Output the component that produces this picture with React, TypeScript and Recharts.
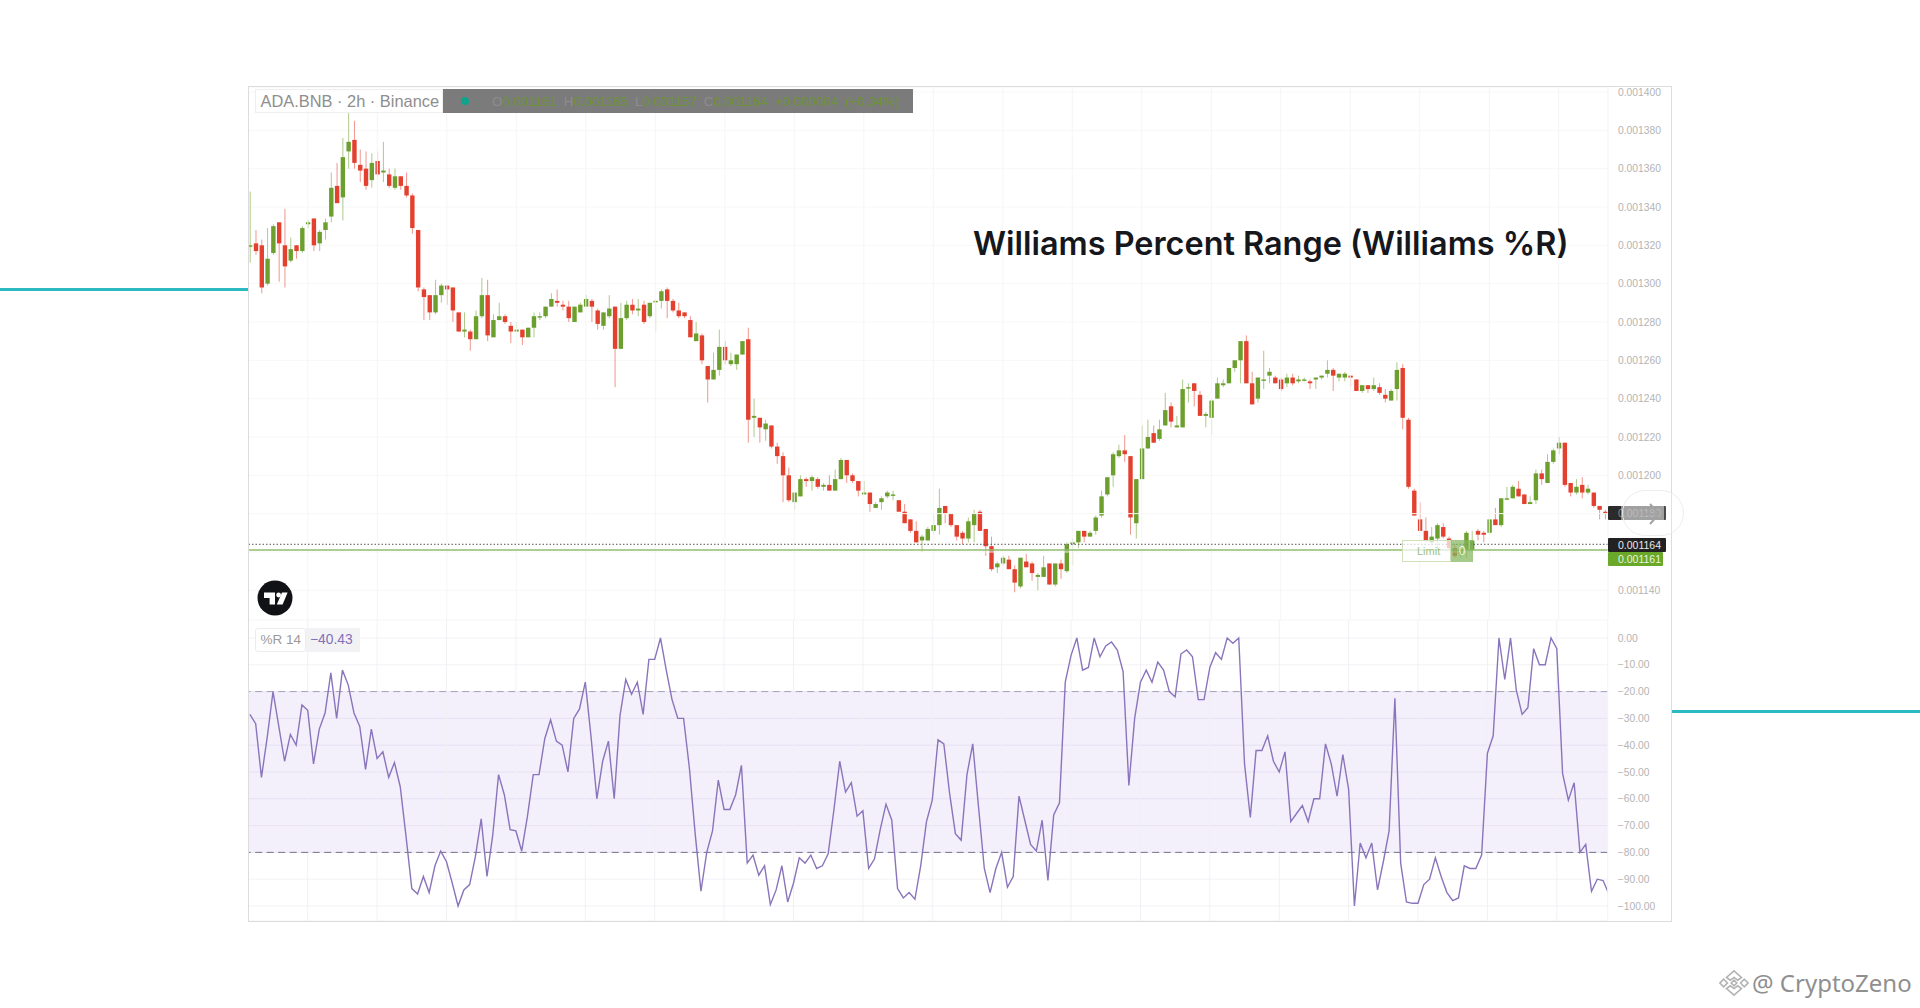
import { Bar, CartesianGrid, ComposedChart, Line, ReferenceArea, ReferenceLine, XAxis, YAxis } from 'recharts';

// prices are in millionths, 1164 = 0.001164
const opens = [
  1320,1321,1320,1300,1316,1332,1320,1312,1320,1317,
  1331,1334,1321,1328,1335,1351,1345,1369,1375,1362,
  1360,1354,1364,1358,1357,1350,1356,1351,1346,1328,
  1297,1294,1285,1294,1299,1298,1285,1275,1275,1271,
  1283,1294,1272,1281,1283,1278,1275,1276,1272,1277,
  1283,1283,1288,1291,1289,1288,1280,1285,1288,1291,
  1286,1278,1283,1288,1266,1282,1289,1286,1289,1283,
  1291,1291,1297,1291,1286,1285,1281,1270,1273,1257,
  1250,1255,1267,1258,1258,1263,1271,1230,1230,1224,
  1226,1215,1210,1200,1186,1189,1198,1197,1198,1194,
  1195,1192,1198,1208,1200,1197,1190,1191,1183,1186,
  1189,1190,1187,1181,1177,1171,1166,1166,1171,1174,
  1184,1180,1174,1170,1167,1174,1181,1172,1163,1152,
  1154,1156,1151,1142,1155,1154,1147,1147,1154,1143,
  1154,1150,1164,1165,1171,1168,1171,1179,1190,1200,
  1210,1213,1210,1175,1198,1214,1222,1219,1226,1236,
  1225,1225,1246,1248,1242,1231,1230,1240,1247,1248,
  1256,1260,1270,1248,1240,1250,1252,1251,1250,1248,
  1251,1249,1250,1249,1250,1251,1253,1255,1251,1251,
  1252,1250,1244,1247,1245,1246,1242,1239,1245,1256,
  1229,1192,1177,1171,1165,1167,1173,1167,1162,1159,
  1161,1161,1171,1170,1170,1177,1174,1188,1188,1193,
  1190,1185,1187,1201,1196,1207,1214,1217,1196,1191,
  1195,1191,1191,1184,1181,
];
const highs = [
  1348,1328,1323,1329,1331,1332,1339,1324,1320,1330,
  1333,1334,1328,1334,1358,1363,1376,1389,1385,1370,
  1369,1368,1369,1374,1360,1360,1356,1358,1347,1328,
  1298,1294,1302,1300,1299,1298,1285,1285,1276,1286,
  1303,1302,1284,1290,1284,1280,1280,1276,1277,1285,
  1285,1288,1295,1297,1291,1291,1288,1290,1294,1292,
  1287,1285,1294,1288,1290,1291,1292,1292,1291,1290,
  1292,1297,1298,1292,1290,1285,1283,1280,1274,1257,
  1264,1276,1270,1264,1263,1270,1277,1240,1230,1229,
  1226,1217,1212,1204,1191,1200,1199,1200,1199,1196,
  1200,1203,1209,1208,1201,1197,1197,1191,1186,1189,
  1192,1192,1187,1185,1177,1176,1169,1173,1180,1193,
  1184,1180,1174,1171,1178,1182,1182,1172,1168,1155,
  1158,1158,1153,1157,1159,1155,1149,1158,1154,1154,
  1156,1165,1167,1171,1171,1171,1179,1192,1199,1212,
  1216,1221,1210,1198,1226,1229,1226,1229,1243,1238,
  1231,1250,1248,1248,1244,1233,1240,1251,1250,1256,
  1260,1270,1273,1254,1251,1265,1256,1252,1251,1253,
  1253,1252,1251,1250,1251,1252,1260,1256,1253,1254,
  1252,1250,1247,1247,1251,1248,1245,1245,1259,1258,
  1230,1193,1186,1178,1173,1175,1175,1168,1164,1163,
  1171,1171,1172,1171,1177,1183,1188,1194,1195,1197,
  1190,1189,1203,1203,1211,1214,1220,1217,1196,1198,
  1199,1195,1191,1184,1182,
];
const lows = [
  1311,1315,1295,1299,1315,1301,1298,1311,1313,1316,
  1329,1317,1317,1323,1332,1342,1333,1360,1360,1353,
  1349,1350,1356,1353,1350,1349,1349,1345,1326,1296,
  1281,1281,1284,1290,1289,1280,1275,1272,1265,1271,
  1282,1270,1272,1281,1279,1269,1275,1268,1272,1272,
  1281,1282,1288,1288,1286,1280,1280,1285,1288,1280,
  1276,1276,1282,1246,1266,1281,1284,1283,1279,1282,
  1275,1287,1282,1285,1282,1282,1272,1270,1258,1238,
  1250,1252,1258,1257,1255,1263,1217,1220,1217,1218,
  1214,1206,1186,1186,1182,1189,1194,1192,1193,1192,
  1192,1192,1198,1196,1196,1189,1190,1181,1183,1182,
  1188,1187,1181,1175,1170,1165,1160,1166,1169,1169,
  1175,1173,1166,1164,1165,1165,1171,1158,1150,1149,
  1153,1151,1139,1141,1152,1145,1140,1147,1143,1142,
  1146,1149,1153,1162,1165,1168,1169,1178,1189,1194,
  1209,1207,1169,1167,1198,1214,1217,1218,1226,1225,
  1225,1225,1238,1236,1231,1225,1221,1240,1246,1248,
  1254,1248,1248,1237,1238,1245,1248,1248,1244,1246,
  1247,1248,1249,1245,1245,1250,1251,1244,1249,1249,
  1246,1244,1243,1243,1244,1242,1238,1239,1239,1224,
  1193,1179,1171,1165,1164,1162,1167,1161,1157,1157,
  1157,1161,1166,1165,1169,1174,1173,1187,1188,1189,
  1185,1185,1185,1195,1196,1206,1211,1194,1189,1190,
  1188,1190,1183,1177,1177,
];
const closes = [
  1320,1317,1298,1313,1330,1321,1309,1318,1317,1329,
  1332,1320,1327,1332,1350,1342,1366,1374,1363,1359,
  1351,1363,1357,1359,1351,1356,1351,1346,1329,1298,
  1293,1285,1294,1299,1297,1286,1275,1276,1271,1283,
  1294,1273,1281,1283,1280,1275,1276,1272,1277,1283,
  1283,1288,1292,1290,1288,1282,1288,1289,1292,1288,
  1279,1285,1287,1266,1282,1289,1286,1287,1280,1290,
  1291,1296,1291,1286,1283,1283,1272,1274,1260,1250,
  1255,1267,1260,1260,1263,1270,1229,1231,1225,1227,
  1215,1210,1200,1187,1191,1198,1197,1199,1194,1195,
  1192,1198,1208,1200,1197,1192,1191,1185,1185,1188,
  1191,1190,1181,1175,1171,1165,1168,1172,1174,1183,
  1180,1174,1168,1167,1176,1180,1171,1163,1151,1154,
  1157,1151,1144,1157,1152,1149,1148,1152,1143,1154,
  1151,1164,1165,1171,1168,1170,1178,1189,1199,1211,
  1213,1211,1178,1198,1214,1220,1217,1224,1234,1228,
  1226,1245,1246,1244,1231,1232,1239,1248,1248,1256,
  1260,1270,1248,1237,1251,1250,1254,1248,1245,1251,
  1248,1250,1250,1248,1251,1252,1255,1252,1253,1253,
  1251,1244,1247,1245,1247,1243,1240,1244,1255,1230,
  1194,1179,1171,1166,1168,1174,1168,1162,1158,1161,
  1170,1166,1169,1169,1177,1174,1188,1188,1194,1189,
  1185,1186,1201,1198,1207,1213,1217,1195,1191,1194,
  1191,1193,1184,1182,1180,
];
const williamsR = [
  -28.5,-32,-52,-37,-20,-33,-46,-36,-40,-25,
  -27,-47,-34,-28,-13,-30,-12,-17.5,-28,-33,
  -49,-34,-45,-42.5,-52,-46.5,-55.5,-74,-93.5,-95.5,
  -89,-95,-85,-79.5,-83.5,-91.5,-100,-94,-92,-81.5,
  -67.5,-89,-73.5,-51,-58.5,-71.5,-72,-79.5,-66.5,-51,
  -51,-37.5,-30.5,-38.5,-40,-50,-30,-26.5,-16.5,-37,
  -60,-46,-38.5,-60,-29,-15.5,-21,-16.5,-28.5,-8,
  -8,0,-12,-23,-30,-30,-48.5,-73,-94.5,-80,
  -72,-53,-64,-64,-58.5,-47.5,-84,-81,-88.5,-85,
  -99.5,-94,-85,-98.5,-91.5,-82,-84,-81,-86,-85,
  -80.5,-64,-46,-57.5,-54,-66.5,-64.5,-86,-82.5,-71.5,
  -62,-68,-93.5,-97,-95,-97.5,-85,-68.5,-60.5,-38,
  -39.5,-58,-73,-75.5,-51,-39.5,-63,-86,-95,-86,
  -80,-93,-89,-59,-68,-77,-79.5,-68,-90.5,-66,
  -61.5,-16.5,-6.5,0,-12,-11,0,-7,-3,-1.5,
  -4.5,-12.5,-55,-30,-16.5,-12,-16.5,-9,-12,-20,
  -22,-6,-4.5,-7,-23,-23,-11,-5.5,-8,0,
  -2,0,-47,-67,-42,-42,-36.5,-46,-50,-42.5,
  -68.5,-65.5,-62.5,-68.5,-60,-60,-39.5,-47,-59,-43.5,
  -56.5,-100,-76.5,-82,-76.5,-94,-83.5,-72,-22.5,-84,
  -98.5,-99,-99,-92,-90,-82,-89,-95,-98,-97,
  -85,-86,-86,-81,-43,-36.5,0,-15.5,0,-19.5,
  -28.5,-26,-4,-10,-10,0,-4,-50.5,-60.5,-54,
  -80,-77,-94.5,-90,-90.5,-95.5,
];
// 1180 and 1160 sit under the price tags, so they only get a grid line
const priceTicks = [1400,1380,1360,1340,1320,1300,1280,1260,1240,1220,1200,1140];
const coveredPriceLines = [1180,1160];
const williamsTicks = [0,-10,-20,-30,-40,-50,-60,-70,-80,-90,-100];
const gridSlots = [10,22,34,46,58,70,82,94,106,118,130,142,154,166,178,190,202,214,226];
const ohlcParts = [
  ['O', '0.001161'],
  ['H', '0.001165'],
  ['L', '0.001157'],
  ['C', '0.001164'],
  ['', '+0.000004'],
  ['', '(+0.34%)'],
];

const candles = opens.map((o, i) => ({ idx: i, o, h: highs[i], l: lows[i], c: closes[i] }));
const williamsRows = williamsR.map((r, i) => ({ idx: i, r }));

const GREEN = '#6c9f2d';
const RED = '#e4402f';
const AXIS_TEXT = '#b4b4b4';
const FONT = '"Liberation Sans", sans-serif';

function Candle(props: any) {
  const { x, y, width, height, payload } = props;
  const { o, h, l, c } = payload;
  const up = c >= o;
  const color = up ? GREEN : RED;
  const perUnit = h > l ? Math.abs(height) / (h - l) : 0;
  const bodyTop = y + (h - Math.max(o, c)) * perUnit;
  const bodyHeight = Math.max(1.4, Math.abs(o - c) * perUnit);
  return (
    <g>
      <rect x={x + width / 2 - 0.5} y={y} width={1} height={Math.abs(height)} fill={color} fillOpacity={0.55} />
      <rect x={x} y={bodyTop} width={width} height={bodyHeight} fill={color} />
    </g>
  );
}

function formatPrice(v: number) {
  return (v / 1e6).toFixed(6);
}

function formatWilliams(v: number) {
  return v === 0 ? '0.00' : '\u2212' + Math.abs(v).toFixed(2);
}

function PriceChart() {
  return (
    <ComposedChart width={1425} height={533} data={candles} margin={{ top: 0, right: 0, bottom: 0, left: 0 }} style={{ position: 'absolute', left: -2.5, top: -0.5 }}>
      <CartesianGrid stroke="#f7f7f7" strokeWidth={1} vertical={false} />
      <XAxis dataKey="idx" type="category" tick={false} axisLine={false} tickLine={false} height={0} />
      <YAxis
        orientation="right"
        width={64}
        domain={[1124.5, 1402.6]}
        allowDataOverflow
        ticks={priceTicks}
        interval={0}
        tickFormatter={formatPrice}
        tick={{ fill: AXIS_TEXT, fontSize: 10.3, fontFamily: FONT }}
        axisLine={{ stroke: '#f3f3f3' }}
        tickLine={false}
        tickSize={10}
        tickMargin={0}
      />
      {coveredPriceLines.map((v) => (
        <ReferenceLine key={v} y={v} stroke="#f7f7f7" />
      ))}
      {gridSlots.map((s) => (
        <ReferenceLine key={s} x={s} stroke="#f5f5f5" />
      ))}
      <Bar dataKey={(d: any) => [d.l, d.h]} barSize={4.4} shape={Candle} isAnimationActive={false} />
      <ReferenceLine y={1164} stroke="#555555" strokeDasharray="1.5 2" strokeWidth={1} />
      <ReferenceLine y={1161} stroke="#93bd6c" strokeWidth={1.4} />
    </ComposedChart>
  );
}

function WilliamsChart() {
  return (
    <ComposedChart width={1424.7} height={301} data={williamsRows} margin={{ top: 0, right: 0, bottom: 0, left: 0 }} style={{ position: 'absolute', left: -2.2, top: 532.5 }}>
      <ReferenceArea y1={-20} y2={-80} fill="#7a4fd0" fillOpacity={0.09} stroke="none" />
      <CartesianGrid stroke="#f3f1f6" strokeWidth={1} vertical={false} />
      <XAxis dataKey="idx" type="number" domain={[-0.5, 234.8]} allowDataOverflow tick={false} axisLine={false} tickLine={false} height={0} />
      <YAxis
        orientation="right"
        width={64}
        domain={[-105.6, 6.7]}
        allowDataOverflow
        ticks={williamsTicks}
        interval={0}
        tickFormatter={formatWilliams}
        tick={{ fill: AXIS_TEXT, fontSize: 10.3, fontFamily: FONT }}
        axisLine={{ stroke: '#f3f3f3' }}
        tickLine={false}
        tickSize={10}
        tickMargin={0}
      />
      {gridSlots.map((s) => (
        <ReferenceLine key={s} x={s} stroke="#f2f0f5" />
      ))}
      <ReferenceLine y={-20} stroke="#a8a0ba" strokeDasharray="7 4.5" strokeWidth={1} />
      <ReferenceLine y={-80} stroke="#77708c" strokeDasharray="7 4.5" strokeWidth={1} />
      <Line dataKey="r" stroke="#8a74bb" strokeWidth={1.4} dot={false} type="linear" isAnimationActive={false} />
    </ComposedChart>
  );
}

function PriceTag({ top, width, bg, text, color }: { top: number; width: number; bg: string; text: string; color: string }) {
  return (
    <div style={{ position: 'absolute', left: 1608, top, width, height: 14, background: bg, color, borderRadius: 1, fontSize: 10.5, lineHeight: '14px', paddingLeft: 10, boxSizing: 'border-box' }}>
      {text}
    </div>
  );
}

function TvLogo() {
  return (
    <svg width={36} height={36} viewBox="0 0 36 36" style={{ position: 'absolute', left: 257, top: 579.5 }}>
      <circle cx={18} cy={18} r={17.5} fill="#111216" />
      <path d="M7 12.5h11v12h-5.4v-6.6H7z" fill="#fff" />
      <circle cx={21.6} cy={15} r={2.4} fill="#fff" />
      <path d="M25 12.5h5.6l-5 12h-5.8z" fill="#fff" />
    </svg>
  );
}

function BinanceMark() {
  return (
    <svg width={30} height={30} viewBox="0 0 32 30" style={{ position: 'absolute', left: 1719, top: 968 }}>
      <g fill="none" stroke="#b3b3b3" strokeWidth={1.7}>
        <path d="M16 2l8 7-4 3-4-3-4 3-4-3z" />
        <path d="M16 28l8-7-4-3-4 3-4-3-4 3z" />
        <path d="M5 11l4 4-4 4-4-4z" />
        <path d="M27 11l4 4-4 4-4-4z" />
        <path d="M16 12l3 3-3 3-3-3z" />
      </g>
    </svg>
  );
}

export default function App() {
  return (
    <div style={{ position: 'absolute', left: 0, top: 0, width: 1920, height: 1008, background: '#fff', overflow: 'hidden', fontFamily: FONT }}>
      <div style={{ position: 'absolute', left: 0, top: 288, width: 249, height: 3, background: '#2bbac0' }} />
      <div style={{ position: 'absolute', left: 1671, top: 710, width: 249, height: 3, background: '#2bbac0' }} />

      <div style={{ position: 'absolute', left: 248, top: 86, width: 1424, height: 836, border: '1.5px solid #dcdcdc', boxSizing: 'border-box', overflow: 'hidden' }}>
        <PriceChart />
        <WilliamsChart />
      </div>

      {/* legend strip */}
      <div style={{ position: 'absolute', left: 255, top: 89, width: 188, height: 24, background: '#fff', border: '1px solid #efefef', boxSizing: 'border-box', color: '#8e8e8e', fontSize: 16.4, lineHeight: '22px', paddingLeft: 4.5, whiteSpace: 'nowrap' }}>
        ADA.BNB · 2h · Binance
      </div>
      <div style={{ position: 'absolute', left: 443, top: 89, width: 470, height: 24, background: '#7b7b7b' }} />
      <div style={{ position: 'absolute', left: 461, top: 97, width: 8, height: 8, borderRadius: 4, background: '#0fa38c' }} />
      <div style={{ position: 'absolute', left: 492, top: 89, height: 24, lineHeight: '25px', fontSize: 13.3, color: '#6e9435', whiteSpace: 'nowrap' }}>
        {ohlcParts.map(([k, v]) => (
          <span key={v} style={{ marginRight: 7 }}>
            <span style={{ color: '#8d8d8d' }}>{k}</span>
            {v}
          </span>
        ))}
      </div>

      <div style={{ position: 'absolute', left: 973, top: 222, fontFamily: 'Inter, sans-serif', fontWeight: 600, fontSize: 32.4, lineHeight: '44px', color: '#15171c', whiteSpace: 'nowrap' }}>
        Williams Percent Range (Williams %R)
      </div>

      {/* order and price tags */}
      <PriceTag top={506} width={58} bg="#2b2b2b" text="0.001180" color="#8b8b8b" />
      <div style={{ position: 'absolute', left: 1621, top: 506, width: 43, height: 14, background: '#bdbdbd', opacity: 0.7 }} />
      <div style={{ position: 'absolute', left: 1622, top: 490, width: 60, height: 44, border: '1px solid #ededed', borderRadius: 23, background: 'rgba(255,255,255,0.15)' }} />
      <svg width={22} height={24} viewBox="0 0 22 24" style={{ position: 'absolute', left: 1640, top: 502 }}>
        <path d="M3 12h15M10 2l9 10-9 10" fill="none" stroke="#a3a3a3" strokeWidth={2} />
      </svg>
      <PriceTag top={538} width={58} bg="#222222" text="0.001164" color="#e8e8e8" />
      <PriceTag top={552} width={55} bg="#6aa82a" text="0.001161" color="#eaf3df" />

      <div style={{ position: 'absolute', left: 1402, top: 540, width: 49, height: 22, background: 'rgba(255,255,255,0.72)', border: '1px solid #cfe0bb', boxSizing: 'border-box', color: '#a0c27f', fontSize: 11, lineHeight: '20px', paddingLeft: 14 }}>
        Limit
      </div>
      <div style={{ position: 'absolute', left: 1451, top: 540, width: 22, height: 22, background: 'rgba(130,182,92,0.72)', color: '#f1f7e9', fontSize: 12, lineHeight: '22px', textAlign: 'center' }}>
        0
      </div>

      <TvLogo />

      <div style={{ position: 'absolute', left: 255, top: 628, width: 51, height: 24, background: '#fff', border: '1px solid #ececec', borderRadius: 3, boxSizing: 'border-box', color: '#9a9a9a', fontSize: 13.5, lineHeight: '22px', paddingLeft: 4.5 }}>
        %R 14
      </div>
      <div style={{ position: 'absolute', left: 306, top: 628, width: 50, height: 24, background: '#f2f2f4', color: '#8270b8', fontSize: 13.8, lineHeight: '24px', paddingLeft: 4 }}>
        {'\u221240.43'}
      </div>

      <BinanceMark />
      <div style={{ position: 'absolute', left: 1752, top: 967, fontFamily: '"Noto Sans", sans-serif', fontSize: 24, lineHeight: '32px', color: '#8f8f8f', whiteSpace: 'nowrap' }}>
        @ CryptoZeno
      </div>
    </div>
  );
}
